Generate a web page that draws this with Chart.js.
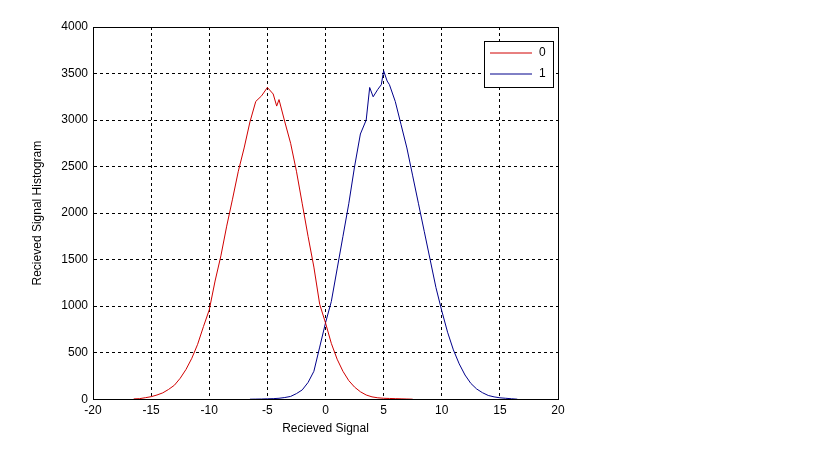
<!DOCTYPE html>
<html>
<head>
<meta charset="utf-8">
<script src="https://cdn.jsdelivr.net/npm/chart.js@4"></script>
<style>
html,body{margin:0;padding:0;background:#fff;}
</style>
</head>
<body>
<canvas id="c" width="819" height="460"></canvas>
<script>
const redX = [-16.5,-16,-15.5,-15,-14.5,-14,-13.5,-13,-12.5,-12,-11.5,-11,-10.5,-10,-9.5,-9,-8.5,-8,-7.5,-7,-6.5,-6,-5.5,-5,
  -4.5,-4.2,-4,-3.5,-3,-2.5,-2,-1.5,-1,-0.5,0,0.5,1,1.5,2,2.5,3,3.5,4,4.5,5,5.5,6,6.5,7,7.5];
const redY = [3,6,16,27,45,68,105,150,225,320,440,590,780,960,1270,1540,1860,2150,2450,2700,2980,3200,3260,3350,
  3280,3150,3220,2980,2750,2450,2100,1750,1420,1020,820,600,430,300,200,130,80,45,25,15,10,8,6,4,2,0];
const blueX = [-6.5,-6,-5.5,-5,-4.5,-4,-3.5,-3,-2.5,-2,-1.5,-1,-0.5,0,0.5,1,1.5,2,2.5,3,3.5,3.8,4.1,4.5,4.8,5,5.3,5.5,6,6.5,7,7.5,
  8,8.5,9,9.5,10,10.5,11,11.5,12,12.5,13,13.5,14,14.5,15,15.5,16,16.5];
const blueY = [0,1,2,4,6,10,18,30,60,100,180,300,560,820,1050,1400,1750,2100,2500,2850,3000,3350,3250,3330,3380,3530,3420,3380,3200,2950,2700,2400,
  2100,1800,1500,1200,950,720,530,380,260,170,110,70,40,25,15,10,5,0];
const seriesNames = ["0","1"];

const toPts = (xs, ys) => xs.map((x, i) => ({x: x, y: ys[i]}));
Chart.defaults.font.family = "'Liberation Sans', Arial, sans-serif";
Chart.defaults.font.size = 12;
Chart.defaults.color = "#000";

const legendBox = {
  id: "legendBox",
  afterDraw(chart){
    const ctx = chart.ctx;
    const x = 484, y = 41, w = 69, h = 46;
    ctx.save();
    ctx.fillStyle = "#fff";
    ctx.fillRect(x, y, w, h);
    ctx.strokeStyle = "#000";
    ctx.lineWidth = 1;
    ctx.strokeRect(x + 0.5, y + 0.5, w, h);
    const cols = ["#d00000", "#00008b"];
    ctx.font = "12px 'Liberation Sans', Arial, sans-serif";
    seriesNames.forEach((n, i) => {
      const ly = y + 12 + i * 21;
      ctx.strokeStyle = cols[i];
      ctx.beginPath(); ctx.moveTo(x + 6, ly); ctx.lineTo(x + 48, ly); ctx.stroke();
      ctx.fillStyle = "#000";
      ctx.textBaseline = "middle";
      ctx.fillText(n, x + 55, ly);
    });
    ctx.restore();
  }
};

new Chart(document.getElementById("c"), {
  type: "line",
  data: {
    datasets: [
      {label: seriesNames[0], data: toPts(redX, redY), borderColor: "#d00000", borderWidth: 1, pointRadius: 0, tension: 0},
      {label: seriesNames[1], data: toPts(blueX, blueY), borderColor: "#00008b", borderWidth: 1, pointRadius: 0, tension: 0}
    ]
  },
  options: {
    responsive: false,
    animation: false,
    devicePixelRatio: 1,
    layout: {padding: {top: 27, right: 261, left: 30, bottom: 24}},
    plugins: {legend: {display: false}, tooltip: {enabled: false}},
    scales: {
      x: {
        type: "linear", min: -20, max: 20,
        ticks: {stepSize: 5, maxRotation: 0, padding: 4, callback: v => String(v)},
        grid: {color: "#000", drawTicks: false},
        border: {color: "#000", dash: [3, 3]},
        title: {display: true, text: "Recieved Signal", padding: {top: 0, bottom: 0}}
      },
      y: {
        min: 0, max: 4000,
        ticks: {stepSize: 500, padding: 5, callback: v => String(v)},
        grid: {color: "#000", drawTicks: false},
        border: {color: "#000", dash: [3, 3]},
        title: {display: true, text: "Recieved Signal Histogram", padding: {top: 0, bottom: 8}},
        afterFit(s){ s.width = 63; }
      }
    }
  },
  plugins: [legendBox, {
    id: "frame",
    afterDraw(chart){
      const a = chart.chartArea, ctx = chart.ctx;
      ctx.save(); ctx.strokeStyle = "#000"; ctx.lineWidth = 1; ctx.setLineDash([]);
      ctx.strokeRect(Math.round(a.left) + 0.5, Math.round(a.top) + 0.5, Math.round(a.right - a.left), Math.round(a.bottom - a.top));
      ctx.restore();
    }
  }]
});
</script>
</body>
</html>
